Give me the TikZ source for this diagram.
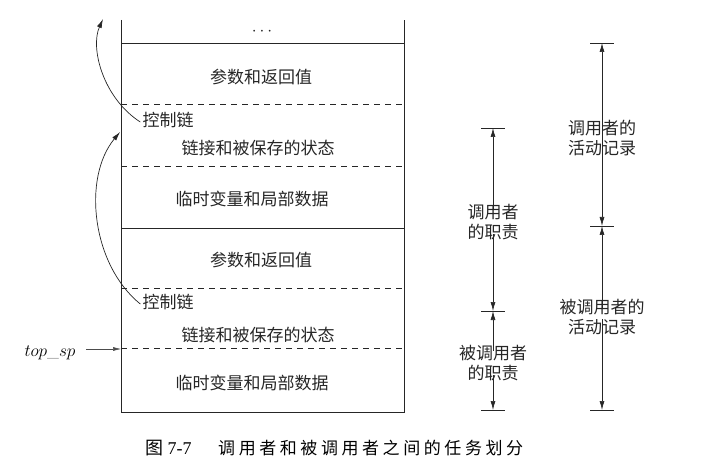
\documentclass[tikz,border=0pt]{standalone}
\usepackage{fontspec}
\newfontfamily\capnum{Liberation Serif}
\newfontfamily\cjk{Noto Sans CJK SC}
\newfontfamily\cjkcap[LetterSpace=21]{Noto Sans CJK SC}
\usetikzlibrary{arrows.meta}
\begin{document}
\begin{tikzpicture}[x=1pt,y=-1pt,
  ln/.style={line width=0.9pt,draw=black!85},
  dl/.style={line width=0.9pt,draw=black!85,dash pattern=on 6pt off 5pt},
  lbl/.style={font=\cjk\fontsize{17}{20.5}\selectfont,inner sep=0pt,text=black!85},
  dim/.style={line width=0.7pt,draw=black!85,-{Latex[length=9pt,width=5pt]}},
  curv/.style={line width=0.7pt,draw=black!85,-{Latex[length=9pt,width=5pt]}},
  tick/.style={line width=0.8pt,draw=black!85}]
\useasboundingbox (0,0) rectangle (704,473);
% stack frame box
\draw[ln] (121,20) -- (121,412) -- (404,412) -- (404,20);
\draw[ln] (121,43) -- (404,43);
\draw[dl] (121,104) -- (404,104);
\draw[dl] (121,166) -- (404,166);
\draw[ln] (121,228) -- (404,228);
\draw[dl] (121,288) -- (404,288);
\draw[dl] (121,348) -- (404,348);
% texts
\node[lbl] (dots) at (262,32) {$\cdots$};
\node[lbl] (p1) at (261,77) {参数和返回值};
\node[lbl] (c1) at (168,120) {控制链};
\node[lbl] (s1) at (258,148) {链接和被保存的状态};
\node[lbl] (t1) at (252,199) {临时变量和局部数据};
\node[lbl] (p2) at (261,260) {参数和返回值};
\node[lbl] (c2) at (168,302) {控制链};
\node[lbl] (s2) at (258,335) {链接和被保存的状态};
\node[lbl] (t2) at (252,383) {临时变量和局部数据};
% control links
\coordinate (top) at (103,19);
\coordinate (cl1) at (120,132);
\draw[curv] ([xshift=-2pt,yshift=-2pt]c1.west) .. controls (103,98) and (90,48) .. (top);
\draw[curv] ([xshift=-2pt,yshift=-2pt]c2.west) .. controls (92,265) and (82,178) .. (cl1);
% top_sp
\node[font=\fontsize{17}{20}\selectfont,inner sep=0pt] (tsp) at (50,353) {$top\_sp$};
\coordinate (tspend) at (121,349);
\draw[line width=0.5pt,draw=black!70,-{Latex[length=8pt,width=4pt]}] (86,349) -- (tspend);
% right dimension column 1
\coordinate (a1) at (493,128);
\coordinate (a2) at (493,311);
\coordinate (a3) at (493,410);
\foreach \p in {a1,a2,a3} \draw[tick] ([xshift=-12pt]\p) -- ([xshift=12pt]\p);
\node[lbl,align=center] (r1) at (493,222) {调用者\\的职责};
\node[lbl,align=center] (r2) at (493,363) {被调用者\\的职责};
\draw[dim] ([yshift=-6pt]r1.north) -- (a1);
\draw[dim] ([yshift=6pt]r1.south) -- (a2);
\draw[dim] ([yshift=-6pt]r2.north) -- (a2);
\draw[dim] ([yshift=6pt]r2.south) -- (a3);
% right dimension column 2
\coordinate (b1) at (602,43);
\coordinate (b2) at (602,226);
\coordinate (b3) at (602,410);
\foreach \p in {b1,b2,b3} \draw[tick] ([xshift=-12pt]\p) -- ([xshift=12pt]\p);
\node[lbl,align=center] (q1) at (602,138) {调用者的\\活动记录};
\node[lbl,align=center] (q2) at (602,317) {被调用者的\\活动记录};
\draw[dim] ([yshift=-26pt]q1.north) -- (b1);
\draw[dim] ([yshift=14pt]q1.south) -- (b2);
\draw[dim] ([yshift=-10pt]q2.north) -- (b2);
\draw[dim] ([yshift=16pt]q2.south) -- (b3);
% caption
\node[font=\capnum\fontsize{18}{20}\selectfont,anchor=west,inner sep=0pt] (fig) at (145,448) {{\cjk 图} 7-7};
\node[font=\cjkcap\fontsize{17}{20}\selectfont,anchor=west,inner sep=0pt] (cap) at (218,448) {调用者和被调用者之间的任务划分};
\end{tikzpicture}
\end{document}
